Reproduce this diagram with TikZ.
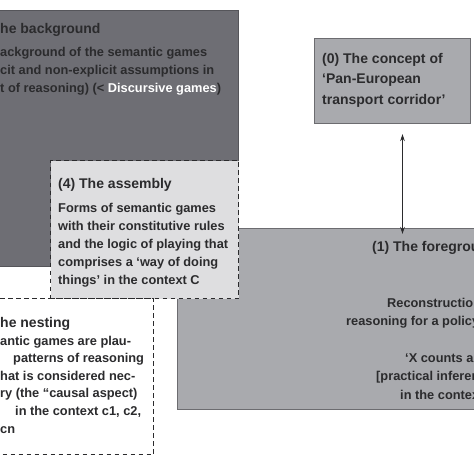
\documentclass[tikz,border=0pt]{standalone}
\usepackage{fontspec}
\setmainfont{Liberation Sans}
\usetikzlibrary{positioning,arrows.meta}
\definecolor{ink}{HTML}{2B2B2D}
\definecolor{backfill}{HTML}{6E6E74}
\definecolor{backline}{HTML}{55555A}
\definecolor{midfill}{HTML}{A9AAAE}
\definecolor{midline}{HTML}{6C6C70}
\definecolor{lightfill}{HTML}{DEDEE0}
\begin{document}
\begin{tikzpicture}[x=1pt,y=-1pt,
  box/.style={draw, line width=1pt, inner sep=0pt, anchor=north west},
  dashbox/.style={box, draw=ink, dash pattern=on 4.5pt off 3.5pt, line width=1.2pt},
  txt/.style={anchor=base west, inner sep=0pt, text=ink, font=\bfseries\fontsize{12.8}{18}\selectfont},
  ttl/.style={txt, font=\bfseries\fontsize{14}{18}\selectfont}]
\useasboundingbox (0,0) rectangle (474,474);
\clip (0,0) rectangle (474,474);
\fill[white] (0,0) rectangle (474,474);
\node[box, fill=backfill, draw=backline, minimum width=260pt, minimum height=256pt] (back) at (-22,10) {};
\node[box, fill=midfill, draw=midline, minimum width=156pt, minimum height=85pt] (concept) at (314,38) {};
\node[box, fill=midfill, draw=midline, minimum width=320pt, minimum height=181pt] (fore) at (177,228) {};
\node[dashbox, fill=lightfill, minimum width=188pt, minimum height=138pt] (assembly) at (50,160) {};
\node[dashbox, fill=white, minimum width=175pt, minimum height=156pt] (nesting) at (-22,298) {};
\draw[{Stealth[length=7pt,width=4.5pt]}-{Stealth[length=7pt,width=4.5pt]}, ink, line width=0.8pt]
  ([xshift=10pt,yshift=-10pt]concept.south) -- ([xshift=10pt,yshift=-6pt]concept.south |- fore.north);
\node[ttl] (back-t) at (0,33) {he background};
\foreach \n/\y/\t in {1/56/{ackground of the semantic games},
  2/74/{cit and non-explicit assumptions in},
  3/92/{t of reasoning) (< \textcolor{white}{Discursive games})}}
  \node[txt] (back-\n) at (0,\y) {\t};
\foreach \n/\y/\t in {1/63/{(0) The concept of}, 2/83/{`Pan-European}, 3/104/{transport corridor'}}
  \node[ttl] (concept-\n) at (322,\y) {\t};
\node[ttl] (fore-t) at (372,251) {(1) The foregrou};
\foreach \n/\x/\y/\t in {1/387/307/{Reconstructio}, 2/346/325/{reasoning for a policy},
  3/405/362/{`X counts a}, 4/376/380/{[practical inferen}, 5/400/399/{in the contex}}
  \node[txt] (fore-\n) at (\x,\y) {\t};
\node[ttl] (assembly-t) at (58,188) {(4) The assembly};
\foreach \n/\y/\t in {1/212/{Forms of semantic games}, 2/230/{with their constitutive rules},
  3/248/{and the logic of playing that}, 4/266/{comprises a `way of doing},
  5/284/{things' in the context C}}
  \node[txt] (assembly-\n) at (58,\y) {\t};
\node[ttl] (nesting-t) at (0,327) {he nesting};
\foreach \n/\x/\y/\t in {1/0/345/{antic games are plau-}, 2/13/362/{patterns of reasoning},
  3/0/380/{hat is considered nec-}, 4/0/397/{ry (the ``causal aspect)},
  5/15/415/{in the context c1, c2,}, 6/0/433/{cn}}
  \node[txt] (nesting-\n) at (\x,\y) {\t};
\end{tikzpicture}
\end{document}
